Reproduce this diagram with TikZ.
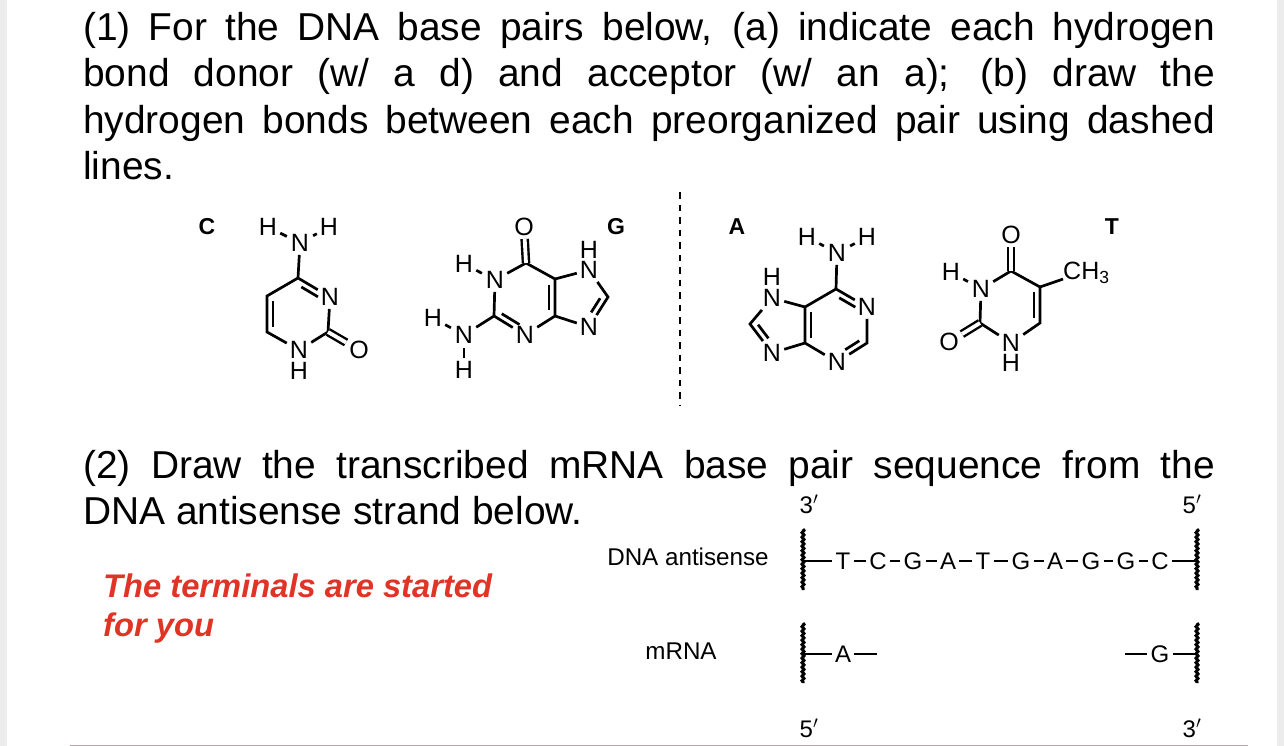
\documentclass[tikz,border=0pt]{standalone}
\usepackage{fontspec}
\setmainfont{Liberation Sans}
\usetikzlibrary{calc}
\usetikzlibrary{decorations.pathmorphing}
\definecolor{redtext}{RGB}{224,52,38}
\definecolor{sidegray}{RGB}{236,236,236}
\definecolor{rulegray}{RGB}{190,165,170}
\tikzset{
  atom/.style={inner sep=3pt,text height=17.5pt,text depth=0pt,font=\fontsize{25}{25}\selectfont},
  baselabel/.style={inner sep=0pt,font=\fontsize{23}{24}\selectfont\bfseries},
  seqbase/.style={inner sep=3pt,text height=17pt,text depth=0pt,font=\fontsize{24}{24}\selectfont},
  endlabel/.style={inner sep=0pt,font=\fontsize{24}{24}\selectfont},
  bodytext/.style={anchor=north west,inner sep=0pt,text width=1132pt,align=justify,font=\fontsize{38.9}{46.4}\selectfont},
  bond/.style={line width=2.7pt},
  nhbond/.style={line width=2.7pt,shorten >=1pt},
  cobond/.style={line width=2.4pt,double,double distance=3.8pt},
  strand/.style={line width=2.5pt},
  wavy/.style={line width=3pt,decorate,decoration={snake,segment length=4.5pt,amplitude=1pt}}
}
% inner line of a double bond: ends, side (in pt), start and stop fractions
\newcommand{\innerbond}[5]{\draw[bond] ($(#1)!#4!(#2)!#3!90:(#2)$) -- ($(#1)!#5!(#2)!#3!90:(#2)$);}
\begin{document}
\begin{tikzpicture}[x=1pt,y=-1pt]
  \useasboundingbox (0,0) rectangle (1284,746);
  \fill[white] (0,0) rectangle (1284,746);
  \fill[sidegray] (0,0) rectangle (7,746);
  \fill[sidegray] (1277,0) rectangle (1284,746);
  \fill[rulegray] (70,744.5) rectangle (1248,746);
  % text
  \node[bodytext] (qone) at (83,12)
    {(1) For the DNA base pairs below, (a) indicate each hydrogen\linebreak
     bond donor (w/ a d) and acceptor (w/ an a); (b) draw the\linebreak
     hydrogen bonds between each preorganized pair using dashed\linebreak
     lines.};
  \node[bodytext] (qtwo) at (83,450)
    {(2) Draw the transcribed mRNA base pair sequence from the\linebreak
     DNA antisense strand below.};
  \node (hint) [anchor=north west,inner sep=0pt,align=left,text=redtext,font=\fontsize{32.7}{38.5}\selectfont\bfseries\itshape] at (103,574)
    {The terminals are started\\for you};
  % divider
  \coordinate (divtop) at (680,192);
  \coordinate (divbot) at (680,405);
  \draw[line width=2.8pt,dash pattern=on 6.5pt off 6pt] (divtop) -- (divbot);
  % C
  \node[baselabel] (lblC) at (207,227) {C};
  \node[atom] (cH1) at (268,227) {H};
  \node[atom] (cH2) at (329,227) {H};
  \node[atom] (cNa) at (300,243) {N};
  \node[atom] (cN3) at (330,297) {N};
  \node[atom] (cN1) at (299,350) {N};
  \node[atom] (cH3) at (299,371) {H};
  \node[atom] (cO) at (359,350) {O};
  \coordinate (cC4) at (298,278);
  \coordinate (cC5) at (267,296);
  \coordinate (cC6) at (267,332);
  \coordinate (cC2) at (328,332);
  \draw[nhbond] (cH1) -- (cNa);
  \draw[nhbond] (cH2) -- (cNa);
  \draw[bond] (cNa) -- (cC4) -- (cN3) -- (cC2) -- (cN1) -- (cC6) -- (cC5) -- (cC4);
  \innerbond{cC4}{cN3}{-6pt}{.2}{.72}
  \innerbond{cC5}{cC6}{6pt}{.15}{.85}
  \draw[cobond] (cC2) -- (cO);
  % G
  \node[baselabel] (lblG) at (616,227) {G};
  \node[atom] (gO) at (524,227) {O};
  \node[atom] (gN1) at (495,280) {N};
  \node[atom] (gH1) at (464,264) {H};
  \node[atom] (gN2) at (464,335) {N};
  \node[atom] (gH2) at (433,318) {H};
  \node[atom] (gH3) at (464,370) {H};
  \node[atom] (gN3) at (525,335) {N};
  \node[atom] (gN7) at (589,270) {N};
  \node[atom] (gH7) at (589,250) {H};
  \node[atom] (gN9) at (589,327) {N};
  \coordinate (gC6) at (526,263);
  \coordinate (gC2) at (494,316);
  \coordinate (gC4) at (555,316);
  \coordinate (gC5) at (555,279);
  \coordinate (gC8) at (608,297);
  \draw[nhbond] (gH1) -- (gN1);
  \draw[nhbond] (gH2) -- (gN2);
  \draw[nhbond] (gH3) -- (gN2);
  \draw[bond] (gN2) -- (gC2) -- (gN1) -- (gC6) -- (gC5) -- (gC4) -- (gN3) -- (gC2);
  \draw[bond] (gC5) -- (gN7) -- (gC8) -- (gN9) -- (gC4);
  \innerbond{gC2}{gN3}{6pt}{.15}{.72}
  \innerbond{gC5}{gC4}{-6pt}{.15}{.85}
  \innerbond{gC8}{gN9}{-6pt}{.15}{.62}
  \draw[cobond] (gC6) -- (gO);
  % A
  \node[baselabel] (lblA) at (737,227) {A};
  \node[atom] (aNa) at (837,253) {N};
  \node[atom] (aH1) at (807,237) {H};
  \node[atom] (aH2) at (867,237) {H};
  \node[atom] (aN1) at (867,307) {N};
  \node[atom] (aN3) at (837,362) {N};
  \node[atom] (aN7) at (772,298) {N};
  \node[atom] (aH7) at (772,277) {H};
  \node[atom] (aN9) at (772,353) {N};
  \coordinate (aC6) at (836,289);
  \coordinate (aC2) at (867,343);
  \coordinate (aC4) at (805,343);
  \coordinate (aC5) at (805,307);
  \coordinate (aC8) at (750,324);
  \draw[nhbond] (aH1) -- (aNa);
  \draw[nhbond] (aH2) -- (aNa);
  \draw[bond] (aNa) -- (aC6) -- (aN1) -- (aC2) -- (aN3) -- (aC4) -- (aC5) -- (aC6);
  \draw[bond] (aC5) -- (aN7) -- (aC8) -- (aN9) -- (aC4);
  \innerbond{aC6}{aN1}{-6pt}{.2}{.72}
  \innerbond{aC2}{aN3}{-6pt}{.15}{.62}
  \innerbond{aC5}{aC4}{6pt}{.15}{.85}
  \innerbond{aC8}{aN9}{6pt}{.15}{.62}
  % T
  \node[baselabel] (lblT) at (1112,227) {T};
  \node[atom] (tO1) at (1011,235) {O};
  \node[atom] (tN3) at (981,289) {N};
  \node[atom] (tH3) at (951,272) {H};
  \node[atom] (tO2) at (949,342) {O};
  \node[atom] (tN1) at (1011,343) {N};
  \node[atom] (tH1) at (1011,363) {H};
  \node[atom,anchor=west,inner sep=0pt] (tMe) at (1063,271) {CH\textsubscript{3}};
  \coordinate (tC4) at (1011,271);
  \coordinate (tC2) at (980,323);
  \coordinate (tC6) at (1040,323);
  \coordinate (tC5) at (1040,287);
  \draw[nhbond] (tH3) -- (tN3);
  \draw[bond] (tC4) -- (tN3) -- (tC2) -- (tN1) -- (tC6) -- (tC5) -- (tC4);
  \draw[bond] (tC5) -- (tMe);
  \innerbond{tC5}{tC6}{-6pt}{.15}{.85}
  \draw[cobond] (tC4) -- (tO1);
  \draw[cobond] (tC2) -- (tO2);
  % strands
  \node[endlabel] (topL) at (809,504) {3$'$};
  \node[endlabel] (topR) at (1192,504) {5$'$};
  \node[endlabel] (botL) at (809,728) {5$'$};
  \node[endlabel] (botR) at (1192,728) {3$'$};
  \node[font=\fontsize{24.2}{24}\selectfont,inner sep=0pt] (lblDNA) at (688,557) {DNA antisense};
  \node[font=\fontsize{24.2}{24}\selectfont,inner sep=0pt] (lblRNA) at (681,651) {mRNA};
  \coordinate (wAt) at (803,529);
  \coordinate (wAb) at (803,590);
  \coordinate (wBt) at (1197,529);
  \coordinate (wBb) at (1197,590);
  \coordinate (wCt) at (803,623);
  \coordinate (wCb) at (803,683);
  \coordinate (wDt) at (1197,623);
  \coordinate (wDb) at (1197,683);
  \foreach \a/\b in {wAt/wAb,wBt/wBb,wCt/wCb,wDt/wDb}
    \draw[wavy] (\a) -- (\b);
  \coordinate (dnaL) at (803,561);
  \coordinate (dnaR) at (1197,561);
  \foreach \i/\x/\t in {1/843/T,2/878/C,3/913/G,4/948/A,5/983/T,6/1021/G,7/1055/A,8/1091/G,9/1126/G,10/1160/C}
    \node[seqbase] (d\i) at (\x,561) {\t};
  \foreach \i/\j in {1/2,2/3,3/4,4/5,5/6,6/7,7/8,8/9,9/10}
    \draw[strand] (d\i) -- (d\j);
  \draw[strand] (dnaL) -- (d1);
  \draw[strand] (d10) -- (dnaR);
  \coordinate (rnaL) at (803,654);
  \coordinate (rnaR) at (1197,654);
  \coordinate (rnaA) at (877,654);
  \coordinate (rnaB) at (1125,654);
  \node[seqbase] (rA) at (843,654) {A};
  \node[seqbase] (rG) at (1160,654) {G};
  \draw[strand] (rnaL) -- (rA);
  \draw[strand] (rA) -- (rnaA);
  \draw[strand] (rnaB) -- (rG);
  \draw[strand] (rG) -- (rnaR);
\end{tikzpicture}
\end{document}
